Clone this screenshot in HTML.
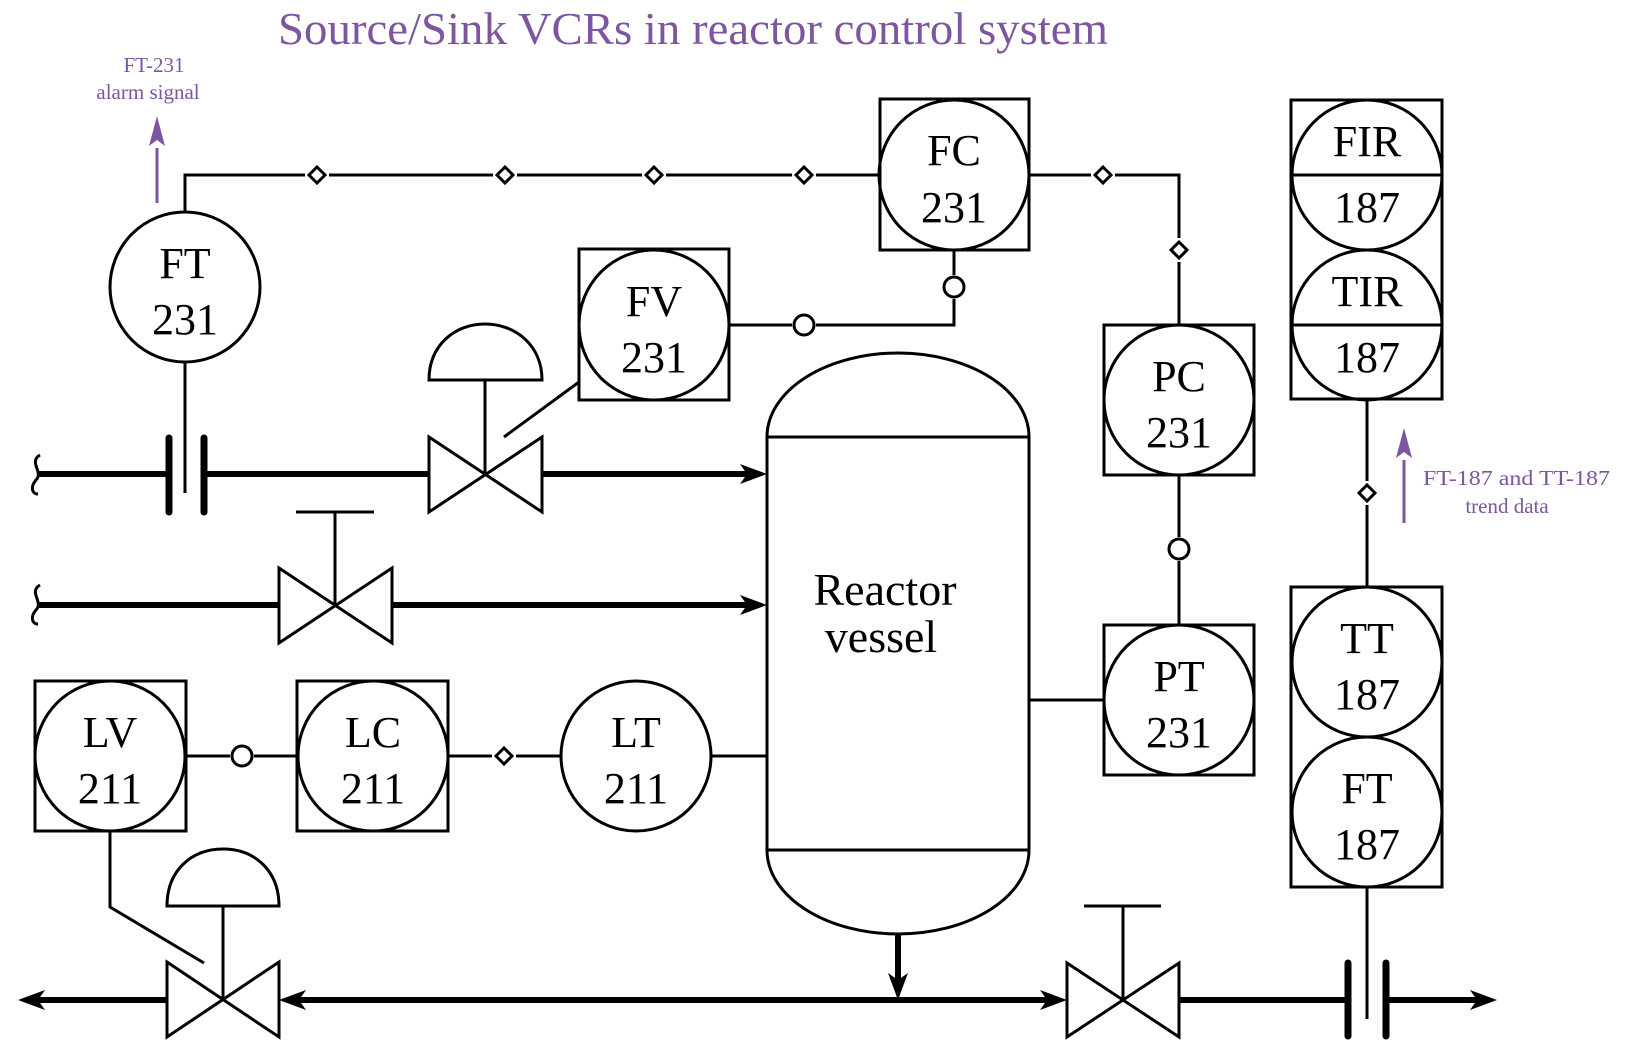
<!DOCTYPE html>
<html><head><meta charset="utf-8"><style>html,body{margin:0;padding:0;background:#fff}svg{display:block}</style></head>
<body>
<svg width="1646" height="1054" viewBox="0 0 1646 1054" xmlns="http://www.w3.org/2000/svg" font-family="'Liberation Serif', serif">
<rect width="1646" height="1054" fill="#fff"/>
<!-- Title -->
<text x="278" y="44" font-size="46" fill="#7d55a0" textLength="830" lengthAdjust="spacingAndGlyphs">Source/Sink VCRs in reactor control system</text>
<text x="154" y="72" font-size="21" fill="#7d55a0" text-anchor="middle">FT-231</text>
<text x="148" y="99" font-size="21" fill="#7d55a0" text-anchor="middle">alarm signal</text>
<line x1="157" y1="203" x2="157" y2="148" stroke="#7d55a0" stroke-width="3"/>
<path d="M157,116 L165,146 L157,140 L149,146 Z" fill="#7d55a0"/>
<text x="1423" y="485" font-size="21" fill="#7d55a0" textLength="187" lengthAdjust="spacingAndGlyphs">FT-187 and TT-187</text>
<text x="1507" y="513" font-size="21" fill="#7d55a0" text-anchor="middle">trend data</text>
<line x1="1404" y1="523" x2="1404" y2="460" stroke="#7d55a0" stroke-width="3"/>
<path d="M1404,428 L1412,458 L1404,452 L1396,458 Z" fill="#7d55a0"/>

<g stroke="#000" stroke-width="3" fill="none">
<polyline points="185,212 185,175 305,175"/>
<line x1="329" y1="175" x2="493" y2="175"/>
<line x1="517" y1="175" x2="642" y2="175"/>
<line x1="666" y1="175" x2="792" y2="175"/>
<line x1="816" y1="175" x2="880" y2="175"/>
<line x1="1029" y1="175" x2="1091" y2="175"/>
<polyline points="1115,175 1179,175 1179,238"/>
<line x1="1179" y1="262" x2="1179" y2="325"/>
<g fill="#fff">
<path d="M317,167 L325,175 L317,183 L309,175 Z"/>
<path d="M505,167 L513,175 L505,183 L497,175 Z"/>
<path d="M654,167 L662,175 L654,183 L646,175 Z"/>
<path d="M804,167 L812,175 L804,183 L796,175 Z"/>
<path d="M1103,167 L1111,175 L1103,183 L1095,175 Z"/>
<path d="M1179,242 L1187,250 L1179,258 L1171,250 Z"/>
</g>
<circle cx="185" cy="287" r="75"/>
<line x1="185" y1="362" x2="185" y2="493"/>
<line x1="729" y1="325" x2="792" y2="325"/>
<circle cx="804" cy="325" r="10"/>
<polyline points="816,325 954,325 954,299"/>
<circle cx="954" cy="287" r="10"/>
<line x1="954" y1="275" x2="954" y2="250"/>
<rect x="579" y="249" width="150" height="151"/>
<circle cx="654" cy="325" r="75"/>
<line x1="579" y1="382" x2="504" y2="437"/>
<rect x="880" y="99" width="149" height="151"/>
<circle cx="954" cy="175" r="75"/>
<rect x="1104" y="325" width="150" height="150"/>
<circle cx="1179" cy="400" r="75"/>
<line x1="1179" y1="475" x2="1179" y2="537"/>
<circle cx="1179" cy="549" r="10"/>
<line x1="1179" y1="561" x2="1179" y2="625"/>
<rect x="1104" y="625" width="150" height="150"/>
<circle cx="1179" cy="700" r="75"/>
<line x1="1029" y1="700" x2="1104" y2="700"/>
<rect x="1291" y="100" width="151" height="299"/>
<circle cx="1367" cy="175" r="75"/>
<circle cx="1367" cy="325" r="75"/>
<line x1="1292" y1="175" x2="1442" y2="175"/>
<line x1="1292" y1="325" x2="1442" y2="325"/>
<line x1="1367" y1="399" x2="1367" y2="481"/>
<path d="M1367,485 L1375,493 L1367,501 L1359,493 Z" fill="#fff"/>
<line x1="1367" y1="505" x2="1367" y2="587"/>
<rect x="1291" y="587" width="151" height="300"/>
<circle cx="1367" cy="662" r="75"/>
<circle cx="1367" cy="812" r="75"/>
<line x1="1367" y1="887" x2="1367" y2="1019"/>
<rect x="35" y="681" width="151" height="150"/>
<circle cx="110" cy="756" r="75"/>
<line x1="186" y1="756" x2="230" y2="756"/>
<circle cx="242" cy="756" r="10"/>
<line x1="254" y1="756" x2="297" y2="756"/>
<rect x="297" y="681" width="151" height="150"/>
<circle cx="373" cy="756" r="75"/>
<line x1="448" y1="756" x2="492" y2="756"/>
<path d="M504,748 L512,756 L504,764 L496,756 Z" fill="#fff"/>
<line x1="516" y1="756" x2="561" y2="756"/>
<circle cx="636" cy="756" r="75"/>
<line x1="711" y1="756" x2="767" y2="756"/>
<polyline points="110,831 110,907 204,963"/>
<!-- Vessel -->
<path d="M767,437 A131,84 0 0 1 1029,437 L1029,850 A131,84 0 0 1 767,850 Z"/>
<line x1="767" y1="437" x2="1029" y2="437"/>
<line x1="767" y1="850" x2="1029" y2="850"/>
<path d="M429,437 L542,512 L542,437 L429,512 Z"/>
<line x1="485" y1="474" x2="485" y2="380"/>
<path d="M429,380 L542,380 C542,345 515,324 485,324 C455,324 429,345 429,380 Z"/>
<path d="M279,568 L392,643 L392,568 L279,643 Z"/>
<line x1="335" y1="605" x2="335" y2="512"/>
<line x1="296" y1="512" x2="374" y2="512"/>
<path d="M167,962 L279,1037 L279,962 L167,1037 Z"/>
<line x1="223" y1="1000" x2="223" y2="906"/>
<path d="M167,906 L279,906 C279,871 255,849 223,849 C191,849 167,871 167,906 Z"/>
<path d="M1067,963 L1179,1037 L1179,963 L1067,1037 Z"/>
<line x1="1123" y1="1000" x2="1123" y2="906"/>
<line x1="1084" y1="906" x2="1161" y2="906"/>
<path d="M40,455 C28,462 44,472 36,480 C30,487 32,494 38,494"/>
<path d="M40,585 C28,592 44,602 36,610 C30,617 32,624 38,624"/>
</g>
<!-- Pipes -->
<g stroke="#000" stroke-width="6" fill="none">
<line x1="38" y1="474" x2="167" y2="474"/>
<line x1="204" y1="474" x2="429" y2="474"/>
<line x1="542" y1="474" x2="750" y2="474"/>
<line x1="38" y1="605" x2="279" y2="605"/>
<line x1="392" y1="605" x2="750" y2="605"/>
<line x1="167" y1="1000" x2="35" y2="1000"/>
<line x1="296" y1="1000" x2="1050" y2="1000"/>
<line x1="898" y1="934" x2="898" y2="984"/>
<line x1="1179" y1="1000" x2="1348" y2="1000"/>
<line x1="1386" y1="1000" x2="1480" y2="1000"/>
</g>
<g fill="#000">
<path d="M767,474 L740,464 L747,474 L740,484 Z"/>
<path d="M767,605 L740,595 L747,605 L740,615 Z"/>
<path d="M18,1000 L45,990 L38,1000 L45,1010 Z"/>
<path d="M279,1000 L306,990 L299,1000 L306,1010 Z"/>
<path d="M1067,1000 L1040,990 L1047,1000 L1040,1010 Z"/>
<path d="M1497,1000 L1470,990 L1477,1000 L1470,1010 Z"/>
<path d="M898,1000 L888,973 L898,980 L908,973 Z"/>
</g>
<g stroke="#000" stroke-width="7" stroke-linecap="round">
<line x1="169" y1="438" x2="169" y2="512"/>
<line x1="204" y1="438" x2="204" y2="512"/>
<line x1="1348" y1="963" x2="1348" y2="1036"/>
<line x1="1386" y1="963" x2="1386" y2="1036"/>
</g>
<g font-size="44" text-anchor="middle" fill="#000">
<text x="185" y="278">FT</text><text x="185" y="334">231</text>
<text x="654" y="316">FV</text><text x="654" y="372">231</text>
<text x="954" y="165">FC</text><text x="954" y="222">231</text>
<text x="1179" y="391">PC</text><text x="1179" y="447">231</text>
<text x="1179" y="691">PT</text><text x="1179" y="747">231</text>
<text x="1367" y="156">FIR</text><text x="1367" y="222">187</text>
<text x="1367" y="306">TIR</text><text x="1367" y="372">187</text>
<text x="1367" y="653">TT</text><text x="1367" y="709">187</text>
<text x="1367" y="803">FT</text><text x="1367" y="859">187</text>
<text x="110" y="747">LV</text><text x="110" y="803">211</text>
<text x="373" y="747">LC</text><text x="373" y="803">211</text>
<text x="636" y="747">LT</text><text x="636" y="803">211</text>
<text x="885" y="605" font-size="46">Reactor</text>
<text x="881" y="652" font-size="46">vessel</text>
</g>
</svg>
</body></html>
